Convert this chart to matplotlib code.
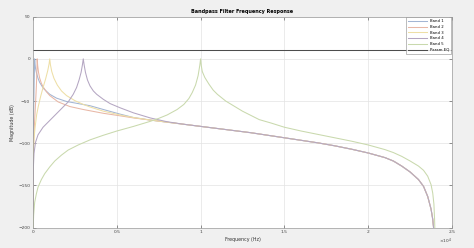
import matplotlib
matplotlib.use("Agg")
import matplotlib.pyplot as plt
from matplotlib.ticker import FuncFormatter

# frequency (Hz) / magnitude (dB)
band1_f = [1, 5, 15, 30, 50, 70, 85, 100, 120, 150, 200, 300, 400, 620, 1000, 1400, 2000,
           2700, 3400, 4200, 5200, 6000, 7000, 8000, 9000, 10000, 11000, 12000, 13000, 14000,
           15000, 16000, 17000, 18000, 19000, 20000, 21000, 21500, 22000, 22500, 23000,
           23300, 23550, 23750, 23850, 23950]
band1_db = [-210, -160, -120, -80, -50, -28, -13, 0, -6, -11, -16, -23, -28, -35, -42, -46.5,
            -50.5, -53, -55.5, -60, -65.5, -69.5, -72.5, -75, -77.5, -80, -82.5, -85, -87.5,
            -90.5, -93.5, -96.5, -99.5, -103, -107, -111.5, -117, -121, -127, -134, -143,
            -151, -163, -178, -190, -210]

band2_f = [1, 10, 40, 100, 160, 200, 230, 250, 280, 330, 400, 500, 600, 800, 1000, 1500,
           2200, 3000, 3400, 4200, 5200, 6000, 7000, 8000, 9000, 10000, 11000, 12000, 13000,
           14000, 15000, 16000, 17000, 18000, 19000, 20000, 21000, 21500, 22000, 22500,
           23000, 23300, 23550, 23750, 23850, 23950]
band2_db = [-210, -140, -100, -72, -50, -33, -17, 0, -8, -16, -23, -29, -33, -39, -43.5, -51,
            -56.5, -60, -61.5, -64.5, -67.5, -70, -72.5, -75, -77.5, -80, -82.5, -85, -87.5,
            -90.5, -93.5, -96.5, -99.5, -103, -107, -111.5, -117, -121, -127, -134, -143,
            -151, -163, -178, -190, -210]

band3_f = [1, 8, 20, 60, 120, 220, 320, 450, 600, 750, 880, 960, 1000, 1040, 1120, 1250,
           1450, 1700, 2000, 2500, 3000, 3400, 4200, 5200, 6000, 7000, 8000, 9000, 10000,
           11000, 12000, 13000, 14000, 15000, 16000, 17000, 18000, 19000, 20000, 21000,
           21500, 22000, 22500, 23000, 23300, 23550, 23750, 23850, 23950]
band3_db = [-210, -130, -115, -95, -82, -66, -56, -45, -34, -24, -14, -6, 0, -7, -15, -23,
            -31, -38, -43.5, -49.5, -54, -57, -62, -66.5, -69.5, -72.5, -75, -77.5, -80,
            -82.5, -85, -87.5, -90.5, -93.5, -96.5, -99.5, -103, -107, -111.5, -117,
            -121, -127, -134, -143, -151, -163, -178, -190, -210]

band4_f = [1, 5, 20, 60, 150, 300, 600, 1000, 1400, 1800, 2100, 2400, 2600, 2750, 2870, 2950,
           3000, 3050, 3130, 3250, 3400, 3600, 3800, 4200, 4600, 5200, 6000, 7000, 8000, 9000,
           10000, 11000, 12000, 13000, 14000, 15000, 16000, 17000, 18000, 19000, 20000,
           21000, 21500, 22000, 22500, 23000, 23300, 23550, 23750, 23850, 23950]
band4_db = [-210, -160, -130, -112, -99, -90, -81, -73, -65, -57, -51, -42, -34, -25, -16, -7,
            0, -7, -16, -25, -32, -38, -42, -48, -53, -58, -64, -70, -74.5, -77.5,
            -80, -82.5, -85, -87.5, -90.5, -93.5, -96.5, -99.5, -103, -107, -111.5,
            -117, -121, -127, -134, -143, -151, -163, -178, -190, -210]

band5_f = [1, 10, 40, 100, 200, 300, 500, 700, 1000, 1300, 1700, 2100, 2700, 3400, 4200, 5000,
           6000, 7000, 7500, 8000, 8600, 9000, 9300, 9500, 9700, 9850, 9950, 10000, 10040,
           10100, 10250, 10500, 10750, 11000, 11500, 12000, 12500, 13000, 13500, 14200,
           15000, 16000, 17000, 18000, 19000, 20000, 21000, 21500, 22000, 22500, 23000,
           23300, 23550, 23750, 23850, 23920, 23960, 23990]
band5_db = [-210, -200, -185, -170, -160, -152, -143, -136, -128, -121, -114, -108, -102,
            -96, -90.5, -85.5, -80, -74, -70.5, -66.5, -60, -54, -47, -40, -31, -20, -8, 0,
            -8, -15, -22, -30, -37, -42, -50, -56, -62, -67, -72, -76, -81, -85.5, -89.5,
            -93.5, -97.5, -102, -107.5, -111, -115.5, -121, -127, -132, -139, -149, -159,
            -172, -190, -210]

eq_f = [0, 25000]
eq_db = [10, 10]

labels = ["Band 1", "Band 2", "Band 3", "Band 4", "Band 5", "Param EQ"]
colors = ["#a3b5d3", "#e8b7a6", "#eedfa6", "#b4a6c2", "#c9d9ad", "#4d4d4d"]

fig = plt.figure(figsize=(4.74, 2.48), dpi=100, facecolor="#f0f0f0")
ax = fig.add_axes([0.0696, 0.0819, 0.884, 0.851])

series = [(band1_f, band1_db), (band2_f, band2_db), (band3_f, band3_db),
          (band4_f, band4_db), (band5_f, band5_db), (eq_f, eq_db)]
for (f, db), lbl, c in zip(series, labels, colors):
    ax.plot(f, db, color=c, lw=0.75, label=lbl)

ax.set_xlim(0, 25000)
ax.set_ylim(-200, 50)
ax.set_xticks([0, 5000, 10000, 15000, 20000, 25000])
ax.set_yticks([-200, -150, -100, -50, 0, 50])
ax.xaxis.set_major_formatter(FuncFormatter(lambda v, p: f"{v / 1e4:g}"))
ax.grid(True, color="#e3e3e3", lw=0.5)
ax.tick_params(labelsize=3.2, direction="in", length=2, width=0.4, colors="#444444",
               top=True, right=True, pad=2)
for s in ax.spines.values():
    s.set_color("#9a9a9a")
    s.set_linewidth(0.5)

ax.set_title("Bandpass Filter Frequency Response", fontsize=3.5, fontweight="bold", pad=2.5)
ax.set_xlabel("Frequency (Hz)", fontsize=3.4, labelpad=1.5, color="#333333")
ax.set_ylabel("Magnitude (dB)", fontsize=3.4, labelpad=2, color="#333333")
ax.text(1.0, -0.045, r"$\times10^4$", transform=ax.transAxes, fontsize=3.2,
        ha="right", va="top", color="#444444")

leg = ax.legend(loc="upper right", fontsize=2.8, frameon=True, fancybox=False,
                handlelength=5, borderpad=0.5, labelspacing=0.45, handletextpad=0.8,
                borderaxespad=0.15)
leg.get_frame().set_edgecolor("#8a8a8a")
leg.get_frame().set_linewidth(0.5)

fig.savefig("out.png", dpi=100, facecolor=fig.get_facecolor())
